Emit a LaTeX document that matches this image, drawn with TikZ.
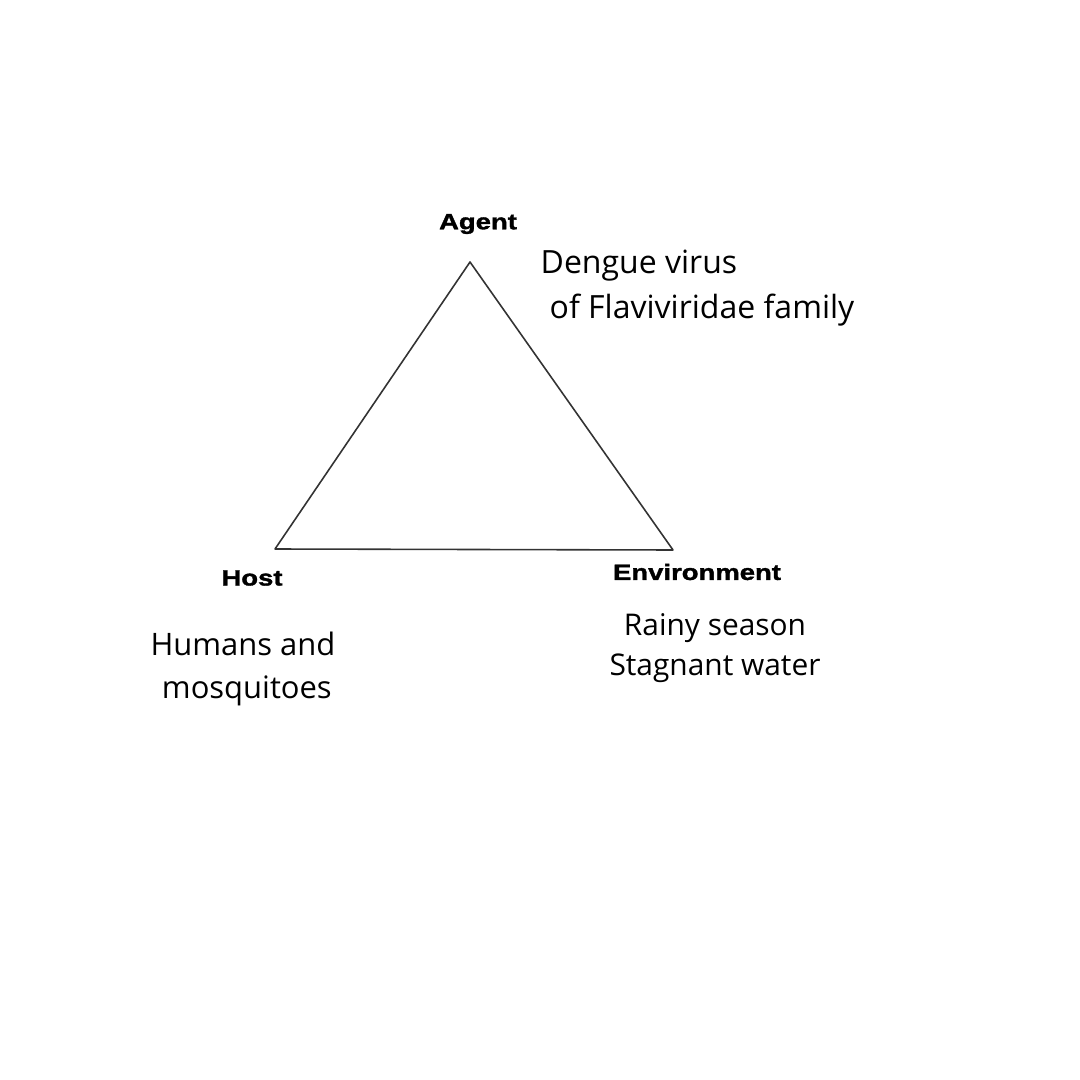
\documentclass[tikz,border=0pt]{standalone}
\usepackage{fontspec}
\setmainfont{Open Sans}
\newfontfamily\tagfont{Liberation Sans Bold}[FakeStretch=1.24,FakeBold=1.5]
\usepackage{tikz}

\begin{document}
\begin{tikzpicture}[
                x=0.01cm, y=-0.01cm,
                corner/.style={font=\tagfont\fontsize{6.3}{7}\selectfont, inner sep=0pt},
                factor/.style={inner sep=0pt},
                side/.style={draw=black!80, line width=0.45pt, line join=round}
                ]
                \useasboundingbox (0,0) rectangle (1080,1080);
                % vertices of the triangle
                \coordinate (agentpt) at (470,262);
                \coordinate (hostpt) at (275,549);
                \coordinate (envpt) at (673,550);
                \draw[side] (agentpt) -- (hostpt) -- (envpt) -- cycle;
                % vertex labels
                \node[corner] (agent) at (478,224) {Agent};
                \node[corner] (host) at (252,578) {Host};
                \node[corner] (env) at (697,572) {Environment};
                % factors
                \node[factor, anchor=north west, align=left, font=\fontsize{9.1}{12.8}\selectfont] (virus) at (540,249)
                    {Dengue virus\\\hspace*{0.28em}of Flaviviridae family};
                \node[factor, anchor=north, align=center, font=\fontsize{8.8}{12.2}\selectfont] (humans) at (243,631)
                    {Humans and\\\hspace*{0.25em}mosquitoes};
                \node[factor, anchor=north, align=center, font=\fontsize{8.5}{11.4}\selectfont] (rain) at (715,613)
                    {Rainy season\\Stagnant water};
\end{tikzpicture}
\end{document}
